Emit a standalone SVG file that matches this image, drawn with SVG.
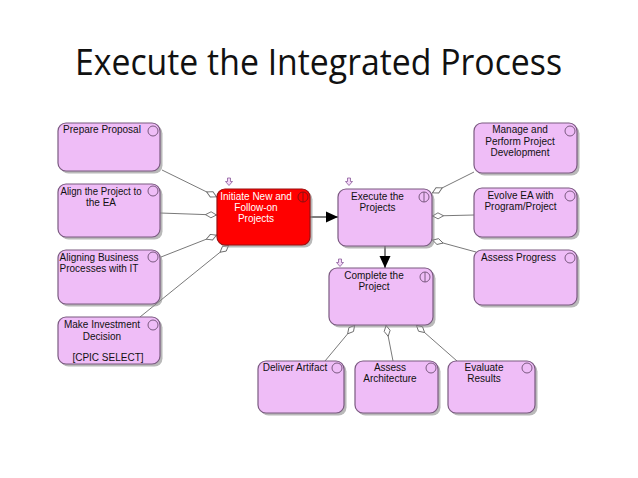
<svg xmlns="http://www.w3.org/2000/svg" width="638" height="478" viewBox="0 0 638 478">
<defs>
<style>
.box{fill:#efbdf7;stroke:#7a5a80;stroke-width:1.2}
.red{fill:#ff0000;stroke:#9a1010;stroke-width:1.2}
.sh{fill:#8a8a8a;opacity:0.6}
.t{font-family:"Liberation Sans",Arial,sans-serif;font-size:10px;fill:#111;text-anchor:middle}
.tw{fill:#ffffff}
.ic{fill:none;stroke:#7a5a80;stroke-width:1}
.icr{fill:none;stroke:#8a1010;stroke-width:1}
.dn{fill:#f4d8f8;stroke:#8a5a9a;stroke-width:0.8}
.c{stroke:#6a6a6a;stroke-width:0.9;fill:none}
.title{font-family:"Open Sans","Liberation Sans",sans-serif;font-size:37px;fill:#111}
</style>
<marker id="dia" markerUnits="userSpaceOnUse" markerWidth="14" markerHeight="10" viewBox="0 -5 13 10" refX="11.5" refY="0" orient="auto">
<path d="M0,0 L5.5,-3 L11,0 L5.5,3 Z" fill="#ffffff" stroke="#6a6a6a" stroke-width="0.9"/>
</marker>
<marker id="arr" markerUnits="userSpaceOnUse" markerWidth="13" markerHeight="13" viewBox="0 -6.5 13 13" refX="12" refY="0" orient="auto">
<path d="M0,-5.5 L12,0 L0,5.5 Z" fill="#000"/>
</marker>
</defs>
<rect width="638" height="478" fill="#ffffff"/>
<text class="title" x="75" y="75" textLength="487" lengthAdjust="spacingAndGlyphs">Execute the Integrated Process</text>

<g id="connectors">
<line class="c" x1="162" y1="170" x2="217" y2="197" marker-end="url(#dia)"/>
<line class="c" x1="160" y1="213" x2="217" y2="215" marker-end="url(#dia)"/>
<line class="c" x1="161" y1="257" x2="217" y2="235" marker-end="url(#dia)"/>
<line class="c" x1="140" y1="317" x2="229" y2="245" marker-end="url(#dia)"/>
<line class="c" x1="474" y1="172" x2="432" y2="193" marker-end="url(#dia)"/>
<line class="c" x1="474" y1="215" x2="432" y2="216" marker-end="url(#dia)"/>
<line class="c" x1="476" y1="252" x2="432" y2="240" marker-end="url(#dia)"/>
<line class="c" x1="325" y1="361" x2="355" y2="325" marker-end="url(#dia)"/>
<line class="c" x1="393" y1="361" x2="386" y2="325" marker-end="url(#dia)"/>
<line class="c" x1="457" y1="361" x2="416" y2="325" marker-end="url(#dia)"/>
<line x1="310" y1="217" x2="338" y2="217" stroke="#000" stroke-width="1" marker-end="url(#arr)"/>
<line x1="385" y1="246" x2="385" y2="268" stroke="#000" stroke-width="1" marker-end="url(#arr)"/>
</g>

<g id="prepare">
<rect class="sh" x="60.5" y="125.5" width="102" height="48" rx="8"/>
<rect class="box" x="58" y="123" width="102" height="48" rx="8"/>
<circle class="ic" cx="153" cy="131" r="5"/>
<text class="t" x="102" y="133">Prepare Proposal</text>
</g>
<g id="align">
<rect class="sh" x="60.5" y="186.5" width="102" height="53" rx="8"/>
<rect class="box" x="58" y="184" width="102" height="53" rx="8"/>
<circle class="ic" cx="153" cy="191" r="5"/>
<text class="t" x="101" y="195" textLength="81" lengthAdjust="spacingAndGlyphs">Align the Project to</text>
<text class="t" x="101" y="206">the EA</text>
</g>
<g id="aligning">
<rect class="sh" x="60.5" y="252.5" width="102" height="54" rx="8"/>
<rect class="box" x="58" y="250" width="102" height="54" rx="8"/>
<circle class="ic" cx="153" cy="257" r="5"/>
<text class="t" x="99" y="261">Aligning Business</text>
<text class="t" x="99" y="272">Processes with IT</text>
</g>
<g id="invest">
<rect class="sh" x="60.5" y="319.5" width="102" height="47" rx="8"/>
<rect class="box" x="58" y="317" width="102" height="47" rx="8"/>
<circle class="ic" cx="153" cy="325" r="5"/>
<text class="t" x="102" y="328">Make Investment</text>
<text class="t" x="102" y="340">Decision</text>
<text class="t" x="108" y="361">[CPIC SELECT]</text>
</g>
<g id="initiate">
<rect class="sh" x="219.5" y="191.5" width="93" height="56" rx="8"/>
<rect class="red" x="217" y="189" width="93" height="56" rx="8"/>
<circle class="icr" cx="303" cy="197" r="5"/>
<line class="icr" x1="303" y1="192" x2="303" y2="202"/>
<path class="dn" d="M227.5,178 h3 v3.5 h2 l-3.5,4 l-3.5,-4 h2 z"/>
<text class="t tw" x="256" y="200">Initiate New and</text>
<text class="t tw" x="256" y="211">Follow-on</text>
<text class="t tw" x="256" y="222">Projects</text>
</g>
<g id="execute">
<rect class="sh" x="340.5" y="191.5" width="94" height="57" rx="8"/>
<rect class="box" x="338" y="189" width="94" height="57" rx="8"/>
<circle class="ic" cx="424" cy="197" r="5"/>
<line class="ic" x1="424" y1="192" x2="424" y2="202"/>
<path class="dn" d="M347.5,178 h3 v3.5 h2 l-3.5,4 l-3.5,-4 h2 z"/>
<text class="t" x="377.5" y="200">Execute the</text>
<text class="t" x="377.5" y="211">Projects</text>
</g>
<g id="complete">
<rect class="sh" x="331.5" y="270.5" width="104" height="57" rx="8"/>
<rect class="box" x="329" y="268" width="104" height="57" rx="8"/>
<circle class="ic" cx="425" cy="277" r="5"/>
<line class="ic" x1="425" y1="272" x2="425" y2="282"/>
<path class="dn" d="M338.5,259 h3 v3.5 h2 l-3.5,4 l-3.5,-4 h2 z"/>
<text class="t" x="374" y="279">Complete the</text>
<text class="t" x="374" y="290">Project</text>
</g>
<g id="manage">
<rect class="sh" x="476.5" y="125.5" width="103" height="50" rx="8"/>
<rect class="box" x="474" y="123" width="103" height="50" rx="8"/>
<circle class="ic" cx="570" cy="131" r="5"/>
<text class="t" x="520" y="133">Manage and</text>
<text class="t" x="520" y="144.5">Perform Project</text>
<text class="t" x="520" y="156">Development</text>
</g>
<g id="evolve">
<rect class="sh" x="476.5" y="190.5" width="103" height="49" rx="8"/>
<rect class="box" x="474" y="188" width="103" height="49" rx="8"/>
<circle class="ic" cx="570" cy="196" r="5"/>
<text class="t" x="520.5" y="199">Evolve EA with</text>
<text class="t" x="520.5" y="210">Program/Project</text>
</g>
<g id="progress">
<rect class="sh" x="476.5" y="252.5" width="103" height="55" rx="8"/>
<rect class="box" x="474" y="250" width="103" height="55" rx="8"/>
<circle class="ic" cx="570" cy="258" r="5"/>
<text class="t" x="518.5" y="261">Assess Progress</text>
</g>
<g id="deliver">
<rect class="sh" x="260.5" y="363.5" width="86" height="52" rx="8"/>
<rect class="box" x="258" y="361" width="86" height="52" rx="8"/>
<circle class="ic" cx="337" cy="368" r="5"/>
<text class="t" x="295" y="371">Deliver Artifact</text>
</g>
<g id="architecture">
<rect class="sh" x="357.5" y="363.5" width="83" height="52" rx="8"/>
<rect class="box" x="355" y="361" width="83" height="52" rx="8"/>
<circle class="ic" cx="431" cy="368" r="5"/>
<text class="t" x="390" y="371">Assess</text>
<text class="t" x="390" y="382">Architecture</text>
</g>
<g id="evaluate">
<rect class="sh" x="450.5" y="363.5" width="87" height="52" rx="8"/>
<rect class="box" x="448" y="361" width="87" height="52" rx="8"/>
<circle class="ic" cx="527" cy="368" r="5"/>
<text class="t" x="484" y="371">Evaluate</text>
<text class="t" x="484" y="382">Results</text>
</g>
</svg>
